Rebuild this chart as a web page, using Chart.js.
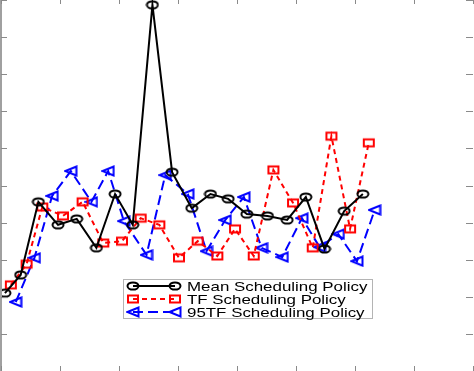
<!DOCTYPE html>
<html>
<head>
<meta charset="utf-8">
<script src="https://cdn.jsdelivr.net/npm/chart.js@4/dist/chart.umd.min.js"></script>
<style>
  html, body { margin: 0; padding: 0; background: #fff; }
  #wrap { width: 474px; height: 371px; position: relative; }
</style>
</head>
<body>
<div id="wrap"><canvas id="chart" width="474" height="371"></canvas></div>
<script>
// series (axis labels are cropped out of the reference)
const seriesNames = ["Mean Scheduling Policy", "TF Scheduling Policy", "95TF Scheduling Policy"];

const meanX = [0.2, 1.0, 1.9, 2.9, 3.85, 4.85, 5.8, 6.7, 7.7, 8.7, 9.7, 10.65, 11.55, 12.5, 13.55, 14.55, 15.5, 16.45, 17.45, 18.4];
const meanY = [21.0, 25.9, 45.6, 39.4, 41.0, 33.2, 47.7, 39.4, 98.7, 53.6, 43.9, 47.7, 46.4, 42.3, 41.8, 40.7, 46.9, 32.9, 43.1, 47.7];

const tfX = [0.5, 1.3, 2.1, 3.15, 4.15, 5.2, 6.15, 7.1, 8.05, 9.05, 10.0, 11.0, 11.9, 12.85, 13.85, 14.85, 15.85, 16.8, 17.75, 18.7];
const tfY = [23.2, 28.8, 44.2, 41.8, 45.6, 34.5, 35.0, 41.2, 39.4, 30.5, 35.0, 31.0, 38.3, 31.0, 54.2, 45.3, 33.2, 63.3, 38.3, 61.5];

const tf95X = [0.75, 1.7, 2.6, 3.55, 4.6, 5.45, 6.25, 7.4, 8.35, 9.5, 10.45, 11.4, 12.35, 13.25, 14.3, 15.3, 16.2, 17.15, 18.1, 19.0];
const tf95Y = [18.6, 30.5, 47.2, 53.9, 45.6, 53.9, 40.4, 31.3, 52.8, 47.7, 32.3, 40.7, 46.9, 33.2, 30.7, 41.2, 33.4, 36.9, 29.6, 43.4];

// axis ranges (tick marks only, no labels visible)
const xMin = 0, xMax = 24, xStep = 3;
const yMin = 0, yMax = 100, yStep = 10;

const toPoints = (xs, ys) => xs.map((x, i) => ({ x: x, y: ys[i] }));

// hollow markers, a bit wider than tall like the stretched original
function makeMarker(kind, color) {
  const c = document.createElement("canvas");
  c.width = 14; c.height = 12;
  const g = c.getContext("2d");
  g.strokeStyle = color;
  g.lineWidth = 2;
  g.beginPath();
  if (kind === "circle") {
    g.ellipse(7, 6, 5.5, 3.6, 0, 0, Math.PI * 2);
  } else if (kind === "square") {
    g.rect(2, 2.5, 10, 7);
  } else {
    g.moveTo(1.5, 6);
    g.lineTo(12.5, 1.5);
    g.lineTo(12.5, 10.5);
    g.closePath();
  }
  g.stroke();
  return c;
}

const markCircle = makeMarker("circle", "#000000");
const markSquare = makeMarker("square", "#ff0000");
const markTri = makeMarker("tri", "#0000ff");

// MATLAB-ish frame: grey left axis line and inward ticks on all sides
const framePlugin = {
  id: "frame",
  afterDraw(chart) {
    const { ctx, chartArea: a, scales } = chart;
    ctx.save();
    ctx.strokeStyle = "#a0a0a0";
    ctx.lineWidth = 2;
    ctx.beginPath();
    ctx.moveTo(a.left, a.top);
    ctx.lineTo(a.left, a.bottom);
    ctx.stroke();
    ctx.lineWidth = 1;
    ctx.strokeStyle = "#8a8a8a";
    ctx.beginPath();
    scales.x.ticks.forEach(t => {
      const px = Math.round(scales.x.getPixelForValue(t.value)) + 0.5;
      ctx.moveTo(px, a.top); ctx.lineTo(px, a.top + 4);
      ctx.moveTo(px, a.bottom); ctx.lineTo(px, a.bottom - 5);
    });
    scales.y.ticks.forEach(t => {
      const py = Math.round(scales.y.getPixelForValue(t.value)) + 0.5;
      ctx.moveTo(a.left, py); ctx.lineTo(a.left + 6, py);
      ctx.moveTo(a.right, py); ctx.lineTo(a.right - 7, py);
    });
    ctx.stroke();
    ctx.restore();
  }
};

// legend box inside the plot, like the MATLAB one
const legendPlugin = {
  id: "boxLegend",
  afterDraw(chart) {
    const ctx = chart.ctx;
    const box = { x: 123.5, y: 279.5, w: 249, h: 39 };
    const rows = [286, 299, 312];
    ctx.save();
    ctx.fillStyle = "#ffffff";
    ctx.fillRect(box.x, box.y, box.w, box.h);
    ctx.strokeStyle = "#b4b4b4";
    ctx.lineWidth = 1;
    ctx.strokeRect(box.x, box.y, box.w, box.h);
    chart.data.datasets.forEach((ds, i) => {
      const y = rows[i];
      ctx.strokeStyle = ds.borderColor;
      ctx.lineWidth = ds.borderWidth;
      ctx.setLineDash(ds.borderDash || []);
      ctx.beginPath();
      ctx.moveTo(133, y);
      ctx.lineTo(175, y);
      ctx.stroke();
      ctx.setLineDash([]);
      const m = ds.pointStyle;
      ctx.drawImage(m, 133 - m.width / 2, y - m.height / 2);
      ctx.drawImage(m, 175 - m.width / 2, y - m.height / 2);
      ctx.save();
      ctx.translate(187, y);
      ctx.scale(1.3, 1);
      ctx.fillStyle = "#000000";
      ctx.font = "13px 'Liberation Sans', Arial, sans-serif";
      ctx.textBaseline = "middle";
      ctx.fillText(ds.label, 0, 1);
      ctx.restore();
    });
    ctx.restore();
  }
};

new Chart(document.getElementById("chart"), {
  type: "line",
  data: {
    datasets: [
      {
        label: seriesNames[0],
        data: toPoints(meanX, meanY),
        borderColor: "#000000",
        borderWidth: 2,
        pointStyle: markCircle,
        pointRadius: 6
      },
      {
        label: seriesNames[1],
        data: toPoints(tfX, tfY),
        borderColor: "#ff0000",
        borderWidth: 2,
        borderDash: [5, 4],
        pointStyle: markSquare,
        pointRadius: 6
      },
      {
        label: seriesNames[2],
        data: toPoints(tf95X, tf95Y),
        borderColor: "#0000ff",
        borderWidth: 2,
        borderDash: [10, 5],
        pointStyle: markTri,
        pointRadius: 6
      }
    ]
  },
  options: {
    responsive: false,
    maintainAspectRatio: false,
    animation: false,
    layout: { autoPadding: false, padding: { left: 1, right: 1, top: 0, bottom: 0 } },
    elements: { line: { tension: 0, fill: false } },
    plugins: {
      legend: { display: false },
      tooltip: { enabled: false }
    },
    scales: {
      x: {
        type: "linear",
        display: false,
        min: xMin, max: xMax,
        ticks: { stepSize: xStep }
      },
      y: {
        type: "linear",
        display: false,
        min: yMin, max: yMax,
        ticks: { stepSize: yStep }
      }
    }
  },
  plugins: [framePlugin, legendPlugin]
});
</script>
</body>
</html>
